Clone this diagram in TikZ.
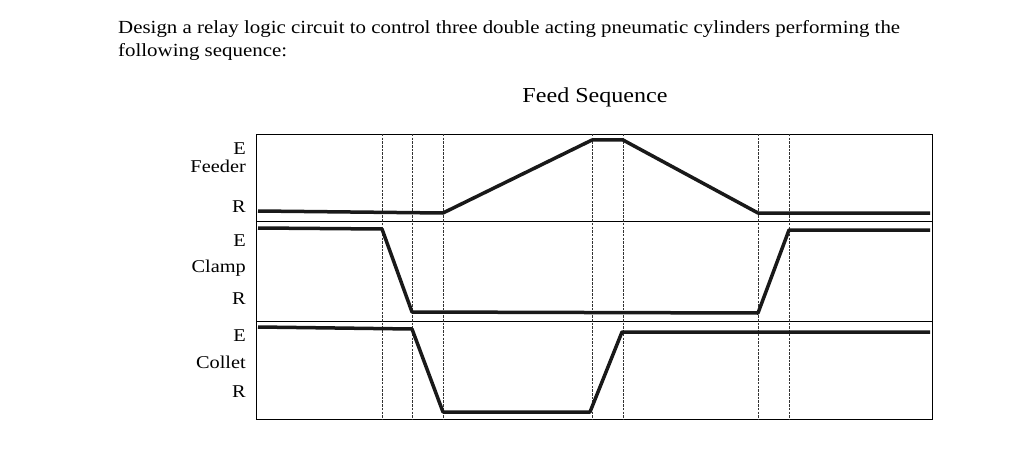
\documentclass[tikz,border=0pt]{standalone}
\usepackage{fontspec}
\setmainfont{Liberation Serif}[FakeStretch=1.13]
\begin{document}
\begin{tikzpicture}[x=1pt,y=-1pt,
  frameline/.style={draw=black,line width=0.9pt},
  guide/.style={draw=black!80,line width=0.6pt,dash pattern=on 2.5pt off 1.2pt},
  signal/.style={draw=black!90,line width=3.5pt,line join=round},
  lbl/.style={anchor=base east,font=\fontsize{18}{20}\selectfont,inner sep=0pt},
  hdr/.style={anchor=base west,inner sep=0pt,font=\fontsize{18.5}{22}\selectfont}]
\useasboundingbox (0,0) rectangle (1024,449);
% header
\node[hdr] (h1) at (118,34) {Design a relay logic circuit to control three double acting pneumatic cylinders performing the};
\node[hdr] (h2) at (118,57) {following sequence:};
\node[anchor=base,inner sep=0pt,font=\fontsize{21.3}{25}\selectfont] (title) at (595,103) {Feed Sequence};
% frame
\coordinate (tl) at (256,134);
\coordinate (br) at (932,419);
\draw[frameline] (tl) rectangle (br);
\coordinate (d1l) at (256,221); \coordinate (d1r) at (932,221);
\coordinate (d2l) at (256,321); \coordinate (d2r) at (932,321);
\draw[frameline] (d1l) -- (d1r);
\draw[frameline] (d2l) -- (d2r);
% guides
\foreach \x/\n in {382/g1,412/g2,443/g3,592/g4,623/g5,758/g6,789/g7}{
  \coordinate (\n t) at (\x,134);
  \coordinate (\n b) at (\x,419);
  \draw[guide] (\n t) -- (\n b);
}
% labels
\node[lbl] (fe) at (246,155) {E};
\node[lbl] (fn) at (246,172) {Feeder};
\node[lbl] (fr) at (246,212) {R};
\node[lbl] (ce) at (246,246) {E};
\node[lbl] (cn) at (246,272) {Clamp};
\node[lbl] (cr) at (246,304) {R};
\node[lbl] (le) at (246,341) {E};
\node[lbl] (ln) at (246,368) {Collet};
\node[lbl] (lr) at (246,397) {R};
% signals
\draw[signal] (258,211) -- (443,213) -- (592,140) -- (623,140) -- (758,213) -- (930,213);
\draw[signal] (258,228) -- (382,229) -- (412,312) -- (758,313) -- (789,230) -- (930,230);
\draw[signal] (258,327) -- (412,329) -- (443,412) -- (590,412) -- (622,332) -- (930,332);
\end{tikzpicture}
\end{document}
